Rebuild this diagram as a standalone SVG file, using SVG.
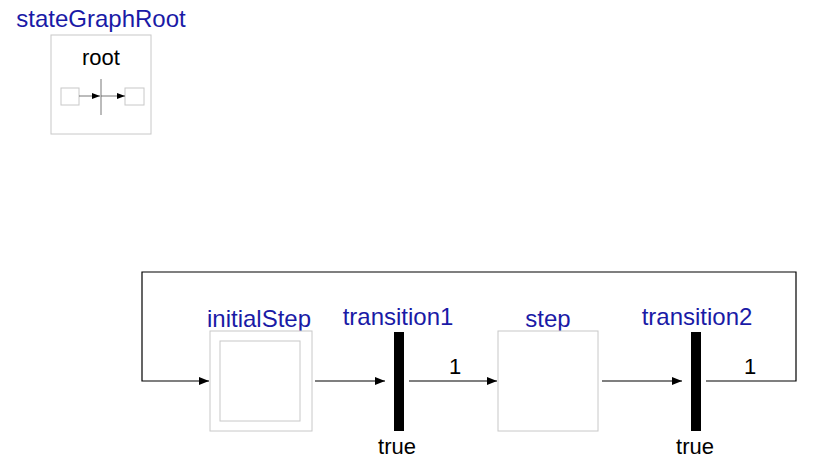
<svg xmlns="http://www.w3.org/2000/svg" width="820" height="468" viewBox="0 0 820 468">
<style>
.b{fill:#fff;stroke:#c8c8c8;stroke-width:1}
.lbl{font-family:"Liberation Sans",Arial,sans-serif;font-size:24px;fill:#1a1aa6;text-anchor:middle}
.t{font-family:"Liberation Sans",Arial,sans-serif;font-size:22px;fill:#000;text-anchor:middle}
.c{fill:none;stroke:#000;stroke-width:1.2}
</style>
<defs><marker id="a" markerWidth="10" markerHeight="8" refX="10" refY="4" orient="auto" markerUnits="userSpaceOnUse"><path d="M0,0L10,4L0,8z" fill="#000"/></marker>
<marker id="s" markerWidth="8" markerHeight="6" refX="8" refY="3" orient="auto" markerUnits="userSpaceOnUse"><path d="M0,0L8,3L0,6z" fill="#000"/></marker></defs>
<rect width="820" height="468" fill="#fff"/>
<g id="stateGraphRoot">
<text class="lbl" x="101" y="27">stateGraphRoot</text>
<rect class="b" x="51" y="35" width="100" height="99"/>
<text class="t" x="101" y="65">root</text>
<rect class="b" x="61" y="88" width="18" height="17"/>
<rect class="b" x="125" y="88" width="19" height="17"/>
<line x1="101" y1="79" x2="101" y2="115" stroke="#555" stroke-width="0.8"/>
<line x1="79" y1="96" x2="100" y2="96" stroke="#555" stroke-width="0.8" marker-end="url(#s)"/>
<line x1="101" y1="96" x2="125" y2="96" stroke="#555" stroke-width="0.8" marker-end="url(#s)"/>
</g>
<g id="initialStep">
<text class="lbl" x="259" y="327">initialStep</text>
<rect class="b" x="210" y="331" width="102" height="100"/>
<rect class="b" x="220" y="341" width="80" height="80"/>
</g>
<g id="transition1">
<text class="lbl" x="398" y="325">transition1</text>
<rect x="394" y="332" width="10" height="99" fill="#000"/>
<text class="t" x="397" y="454">true</text>
</g>
<g id="step">
<text class="lbl" x="548" y="327">step</text>
<rect class="b" x="498" y="331" width="100" height="100"/>
</g>
<g id="transition2">
<text class="lbl" x="697" y="325">transition2</text>
<rect x="691" y="332" width="10" height="99" fill="#000"/>
<text class="t" x="695" y="454">true</text>
</g>
<g id="connectors">
<polyline class="c" points="706,381 796,381 796,272 142,272 142,381 209,381" marker-end="url(#a)"/>
<line class="c" x1="315" y1="381" x2="385" y2="381" marker-end="url(#a)"/>
<line class="c" x1="409" y1="381" x2="497" y2="381" marker-end="url(#a)"/>
<line class="c" x1="602" y1="381" x2="682" y2="381" marker-end="url(#a)"/>
<text class="t" x="455" y="374">1</text>
<text class="t" x="750" y="374">1</text>
</g>
</svg>
